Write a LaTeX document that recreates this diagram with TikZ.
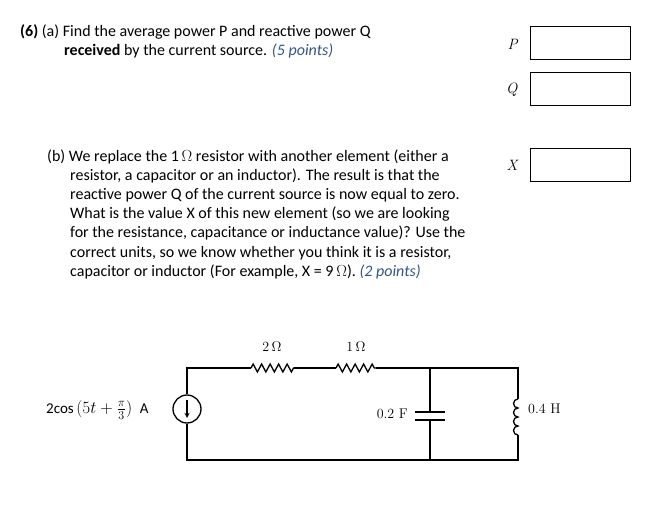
\documentclass[tikz,border=0pt]{standalone}
\usepackage{fontspec}
\setmainfont{Carlito}
\newfontfamily\lmr{Latin Modern Roman}
\usetikzlibrary{decorations.pathmorphing}
\definecolor{pts}{HTML}{2F5597}
\begin{document}
\begin{tikzpicture}[x=1pt,y=-1pt,
  txt/.style={anchor=west,inner sep=0,font=\fontsize{16}{19}\selectfont},
  box/.style={draw,line width=1pt,minimum width=100pt,minimum height=33pt,inner sep=0},
  lab/.style={font=\lmr\itshape\fontsize{15}{17}\selectfont},
  cl/.style={font=\lmr\fontsize{14}{16}\selectfont,inner sep=0},
  w/.style={line width=1.3pt},
  res/.style={decorate,decoration={zigzag,amplitude=4pt,segment length=8.5pt}}]
\useasboundingbox (0,0) rectangle (646,511);
\node[txt] (t1) at (20,32) {\textbf{(6)} (a) Find the average power P and reactive power Q};
\node[txt] (t2) at (64,51) {\textbf{received} by the current source. \textcolor{pts}{\itshape(5 points)}};
\node[txt] (b1) at (47,157) {(b) We replace the 1\,{\lmr Ω} resistor with another element (either a};
\node[txt] (b2) at (70,176) {resistor, a capacitor or an inductor). The result is that the};
\node[txt] (b3) at (70,195) {reactive power Q of the current source is now equal to zero.};
\node[txt] (b4) at (70,214) {What is the value X of this new element (so we are looking};
\node[txt] (b5) at (70,233) {for the resistance, capacitance or inductance value)? Use the};
\node[txt] (b6) at (70,253) {correct units, so we know whether you think it is a resistor,};
\node[txt] (b7) at (70,272) {capacitor or inductor (For example, X = 9\,{\lmr Ω}). \textcolor{pts}{\itshape(2 points)}};
\node[box] (bp) at (580,43.5) {};
\node[box] (bq) at (580,89.5) {};
\node[box] (bx) at (580,164.5) {};
\node[lab,anchor=east] (lp) at (521,44) {P};
\node[lab,anchor=east] (lq) at (521,90) {Q};
\node[lab,anchor=east] (lx) at (521,165) {X};
% circuit
\coordinate (tl) at (187,368); \coordinate (bl) at (187,460);
\coordinate (r1a) at (251,368); \coordinate (r1b) at (294,368);
\coordinate (r2a) at (336,368); \coordinate (r2b) at (376,368);
\coordinate (ct) at (430,368); \coordinate (cb) at (430,460);
\coordinate (lt) at (518,368); \coordinate (lb) at (518,460);
\node[draw,circle,w,minimum size=28pt,inner sep=0] (src) at (187,409) {};
\draw[w] (src.north) -- (tl) -- (r1a);
\draw[w,res] (r1a) -- (r1b);
\draw[w] (r1b) -- (r2a);
\draw[w,res] (r2a) -- (r2b);
\draw[w] (r2b) -- (lt) -- (518,399);
\draw[w] (518,399) \foreach \i in {0,...,3} {arc[start angle=-90,end angle=-270,radius=4.5]} ;
\draw[w] (518,435) -- (lb) -- (bl) -- (src.south);
\draw[w] (ct) -- (430,412) (430,420) -- (cb);
\draw[w] (415,412) -- (445,412) (415,420) -- (445,420);
\draw[w,-stealth] (187,400) -- (187,418);
\node[cl] (l2) at (272,347) {2\,Ω};
\node[cl] (l1) at (356,347) {1\,Ω};
\node[cl,anchor=east] (lc) at (408,414) {0.2 F};
\node[cl,anchor=west] (ll) at (528,409) {0.4 H};
\node[inner sep=0,anchor=west,font=\fontsize{15}{18}\selectfont] (ls) at (46,410) {2cos\,\fontsize{17}{18}\selectfont$(5t+\frac{\pi}{3})$~ \fontsize{15}{18}\selectfont A};
\end{tikzpicture}
\end{document}
